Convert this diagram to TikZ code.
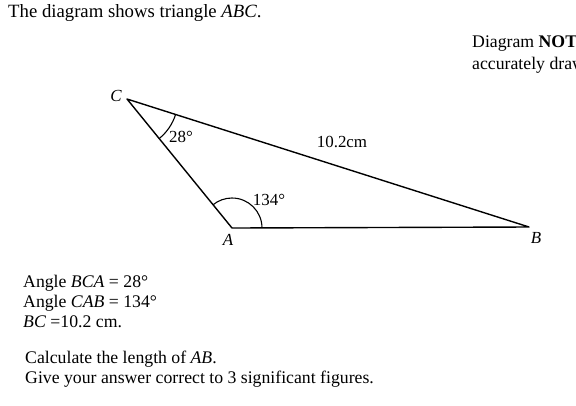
\documentclass[tikz,border=0pt]{standalone}
\usepackage{fontspec}
\setmainfont{Liberation Serif}
\usetikzlibrary{angles}
\begin{document}
\begin{tikzpicture}[x=1bp,y=-1bp,
  txt/.style={font=\fontsize{17.8}{20}\selectfont, inner sep=0pt, anchor=base west},
  lbl/.style={font=\fontsize{17}{19}\selectfont, inner sep=0pt},
  side/.style={line width=1.4pt},
  arcst/.style={draw, line width=1.1pt}]
\fill[white] (0,0) rectangle (576,405);
\useasboundingbox (0,0) rectangle (576,405);
\begin{scope}
\clip (0,0) rectangle (576,405);
\node[txt, font=\fontsize{18.8}{21}\selectfont] (title) at (8,17) {The diagram shows triangle \textit{ABC}.};
\node[txt] (note1) at (472,47) {Diagram \textbf{NOT}};
\node[txt] (note2) at (472,69) {accurately drawn};
\end{scope}
\coordinate (C) at (127,99);
\coordinate (A) at (232,228);
\coordinate (B) at (529,227);
\draw[side, line join=round] (C) -- (A) -- (B) -- cycle;
\pic[arcst, angle radius=51bp] {angle=A--C--B};
\pic[arcst, angle radius=30bp] {angle=B--A--C};
\node[lbl] (lC) at (116,96) {\textit{C}};
\node[lbl] (lA) at (228,240) {\textit{A}};
\node[lbl] (lB) at (536,238) {\textit{B}};
\node[lbl] (a28) at (181,137) {28°};
\node[lbl] (a134) at (269,200) {134°};
\node[lbl] (len) at (342,142) {10.2cm};
\node[txt] (t1) at (23,287) {Angle \textit{BCA} = 28°};
\node[txt] (t2) at (23,307) {Angle \textit{CAB} = 134°};
\node[txt] (t3) at (23,327) {\textit{BC} =10.2 cm.};
\node[txt] (t4) at (25,363) {Calculate the length of \textit{AB}.};
\node[txt] (t5) at (25,383) {Give your answer correct to 3 significant figures.};
\end{tikzpicture}
\end{document}
